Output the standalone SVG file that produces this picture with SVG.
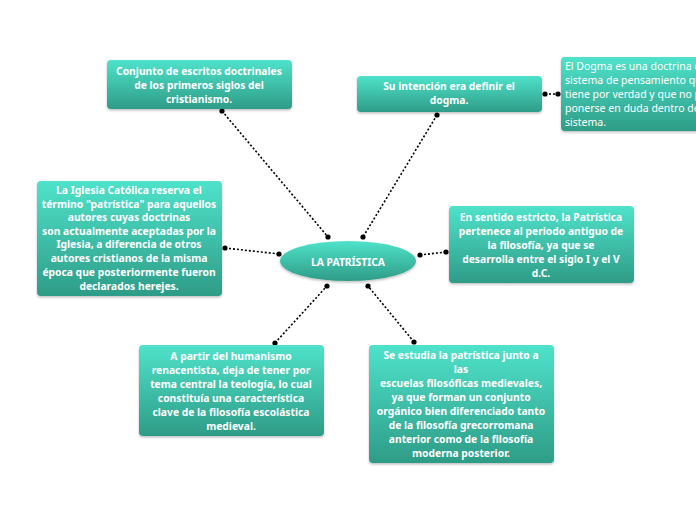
<svg xmlns="http://www.w3.org/2000/svg" width="696" height="520" viewBox="0 0 696 520">
<defs>
<linearGradient id="g" x1="0" y1="0" x2="0" y2="1"><stop offset="0" stop-color="#4fe2ca"/><stop offset="1" stop-color="#2e9c87"/></linearGradient>
<marker id="d" markerWidth="6" markerHeight="6" refX="3" refY="3" markerUnits="userSpaceOnUse"><circle cx="3" cy="3" r="2.6" fill="#000"/></marker>
<filter id="s" x="-10%" y="-10%" width="120%" height="130%"><feDropShadow dx="0" dy="1.5" stdDeviation="1" flood-color="#000" flood-opacity="0.25"/></filter>
</defs>
<style>
.b{fill:url(#g);filter:url(#s)}
.t{font-family:"Noto Sans",sans-serif;font-size:10.3px;font-weight:bold;fill:#fff;text-anchor:middle}
.r{font-family:"Noto Sans",sans-serif;font-size:10.5px;fill:#fff}
.c{stroke:#000;stroke-width:1.6;stroke-dasharray:2 2;fill:none;marker-start:url(#d);marker-end:url(#d)}
</style>
<rect width="696" height="520" fill="#fff"/>
<g id="connectors">
<line class="c" x1="222" y1="111" x2="328" y2="237"/>
<line class="c" x1="437" y1="115" x2="363" y2="237"/>
<line class="c" x1="545" y1="94" x2="558" y2="94"/>
<line class="c" x1="225" y1="248" x2="279" y2="254"/>
<line class="c" x1="420" y1="255" x2="446" y2="252"/>
<line class="c" x1="275" y1="343" x2="327" y2="286"/>
<line class="c" x1="414" y1="342" x2="368" y2="286"/>
</g>
<g id="center"><ellipse class="b" cx="348" cy="261" rx="68" ry="20"/><text class="t" x="348" y="266" font-size="11.5px">LA PATRÍSTICA</text></g>
<g id="n1"><rect class="b" x="107" y="60" width="185" height="49" rx="4"/>
<text class="t"><tspan x="199" y="75">Conjunto de escritos doctrinales</tspan><tspan x="199" y="89">de los primeros siglos del</tspan><tspan x="199" y="103">cristianismo.</tspan></text></g>
<g id="n2"><rect class="b" x="357" y="76" width="185" height="36" rx="4"/>
<text class="t"><tspan x="449" y="90">Su intención era definir el</tspan><tspan x="449" y="104">dogma.</tspan></text></g>
<g id="n3"><rect class="b" x="561" y="57" width="150" height="74" rx="4"/>
<text class="r"><tspan x="565" y="70">El Dogma es una doctrina o</tspan><tspan x="565" y="84">sistema de pensamiento que</tspan><tspan x="565" y="98">tiene por verdad y que no puede</tspan><tspan x="565" y="112">ponerse en duda dentro de su</tspan><tspan x="565" y="126">sistema.</tspan></text></g>
<g id="n4"><rect class="b" x="37" y="181" width="185" height="115" rx="4"/>
<text class="t"><tspan x="129" y="194">La Iglesia Católica reserva el</tspan><tspan x="129" y="208">término "patrística" para aquellos</tspan><tspan x="129" y="221">autores cuyas doctrinas</tspan><tspan x="129" y="235">son actualmente aceptadas por la</tspan><tspan x="129" y="248">Iglesia, a diferencia de otros</tspan><tspan x="129" y="262">autores cristianos de la misma</tspan><tspan x="129" y="276">época que posteriormente fueron</tspan><tspan x="129" y="290">declarados herejes.</tspan></text></g>
<g id="n5"><rect class="b" x="449" y="206" width="185" height="77" rx="4"/>
<text class="t"><tspan x="541" y="221">En sentido estricto, la Patrística</tspan><tspan x="541" y="235">pertenece al periodo antiguo de</tspan><tspan x="541" y="249">la filosofía, ya que se</tspan><tspan x="541" y="263">desarrolla entre el siglo I y el V</tspan><tspan x="541" y="277">d.C.</tspan></text></g>
<g id="n6"><rect class="b" x="139" y="345" width="185" height="91" rx="4"/>
<text class="t"><tspan x="231" y="360">A partir del humanismo</tspan><tspan x="231" y="374">renacentista, deja de tener por</tspan><tspan x="231" y="388">tema central la teología, lo cual</tspan><tspan x="231" y="402">constituía una característica</tspan><tspan x="231" y="416">clave de la filosofía escolástica</tspan><tspan x="231" y="430">medieval.</tspan></text></g>
<g id="n7"><rect class="b" x="369" y="345" width="185" height="118" rx="4"/>
<text class="t"><tspan x="461" y="359">Se estudia la patrística junto a</tspan><tspan x="461" y="373">las</tspan><tspan x="461" y="387">escuelas filosóficas medievales,</tspan><tspan x="461" y="401">ya que forman un conjunto</tspan><tspan x="461" y="415">orgánico bien diferenciado tanto</tspan><tspan x="461" y="429">de la filosofía grecorromana</tspan><tspan x="461" y="443">anterior como de la filosofía</tspan><tspan x="461" y="457">moderna posterior.</tspan></text></g>
</svg>
